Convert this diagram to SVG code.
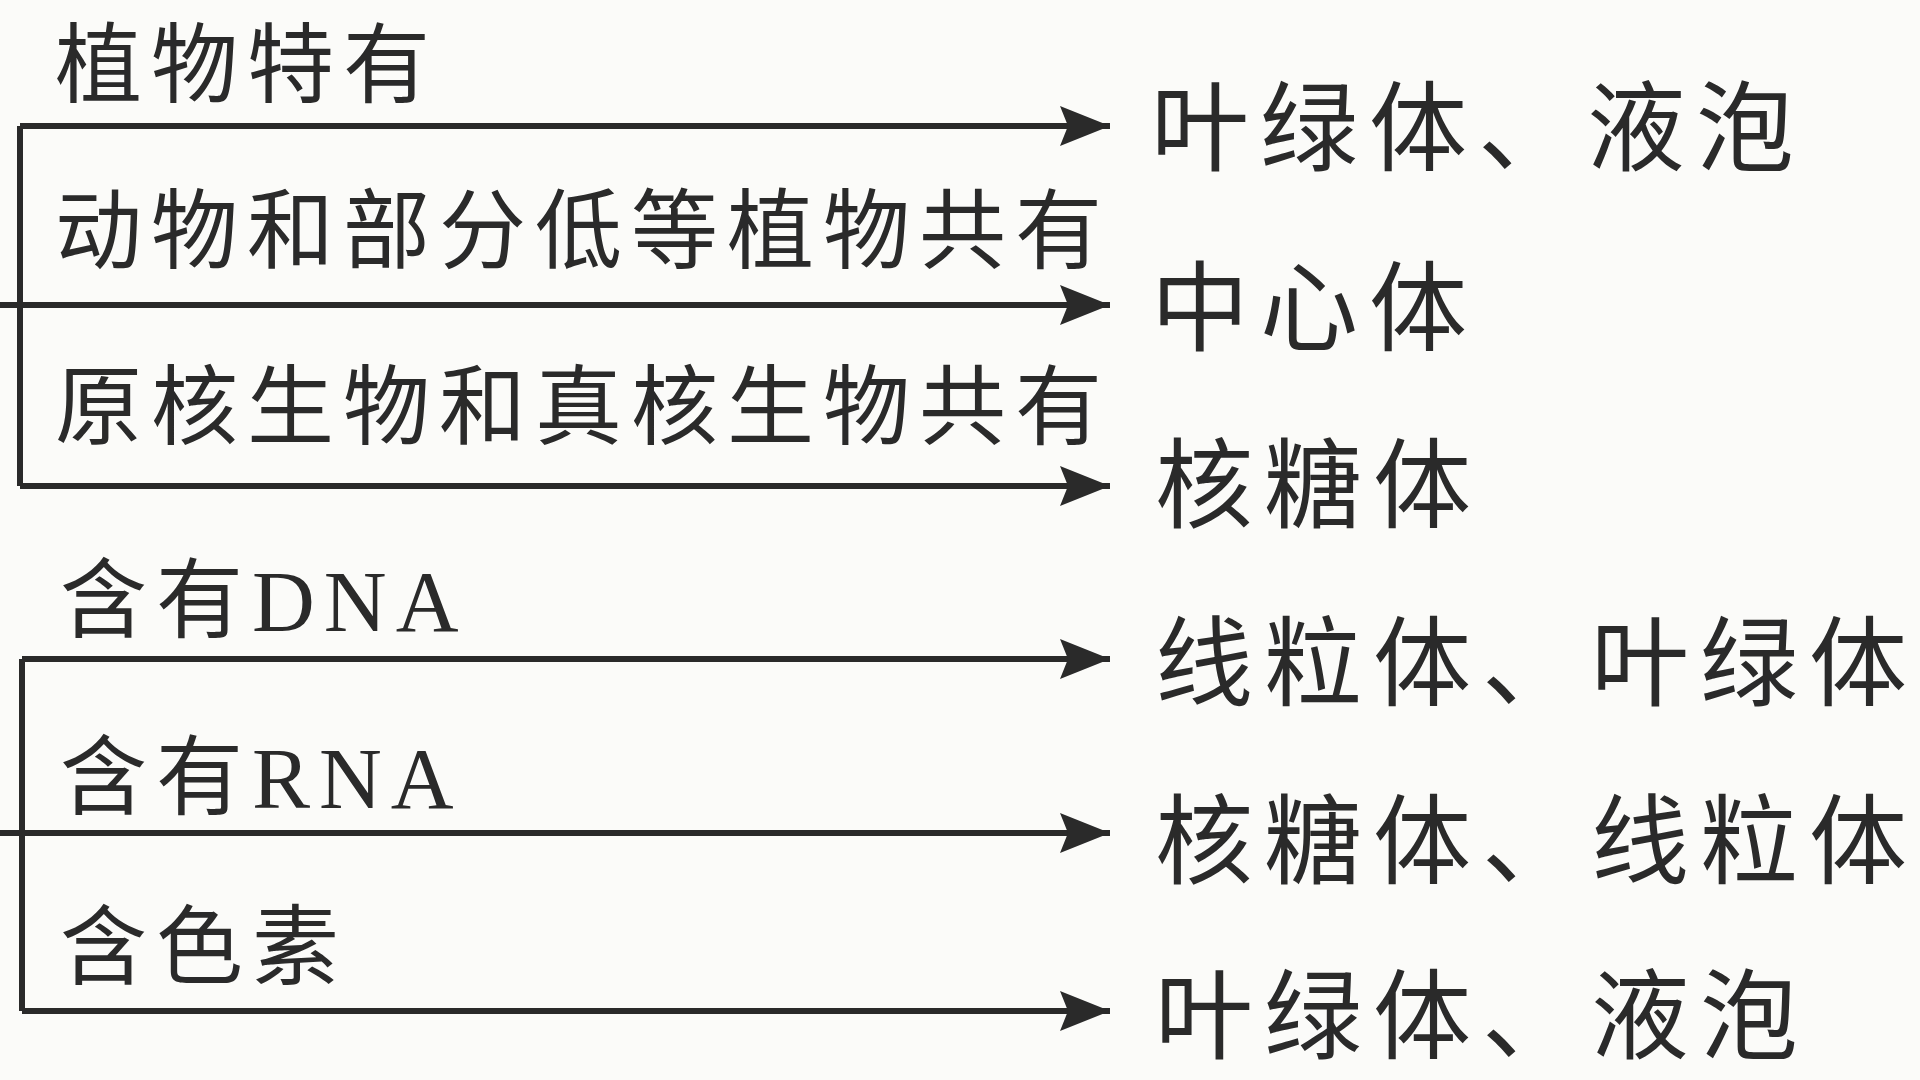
<svg xmlns="http://www.w3.org/2000/svg" width="1920" height="1080" viewBox="0 0 1920 1080">
<style>
.ln{stroke:#2a2a2a;stroke-width:6;fill:none}
.lab{font-family:"Liberation Serif","Noto Sans CJK SC",serif;font-size:87px;letter-spacing:9px;fill:#2a2a2a}
.res{font-family:"Liberation Serif","Noto Sans CJK SC",serif;font-size:98px;letter-spacing:11px;fill:#2a2a2a}
</style>
<defs>
<marker id="a" viewBox="0 0 50 40" refX="50" refY="20" markerWidth="50" markerHeight="40" orient="auto" markerUnits="userSpaceOnUse"><path d="M0,0 L50,20 L0,40 L8,20 Z" fill="#2a2a2a"/></marker></defs>
<rect width="1920" height="1080" fill="#fbfbf9"/>
<g id="connectors">
<path class="ln" d="M20,126 V486 M0,305 H20 M22,659 V1011 M0,833 H22"/>
<path class="ln" marker-end="url(#a)" d="M20,126 H1110"/>
<path class="ln" marker-end="url(#a)" d="M20,305 H1110"/>
<path class="ln" marker-end="url(#a)" d="M20,486 H1110"/>
<path class="ln" marker-end="url(#a)" d="M22,659 H1110"/>
<path class="ln" marker-end="url(#a)" d="M22,833 H1110"/>
<path class="ln" marker-end="url(#a)" d="M22,1011 H1110"/>
</g>
<g id="l1"><text class="lab" x="55" y="96">植物特有</text></g>
<g id="l2"><text class="lab" x="55" y="262">动物和部分低等植物共有</text></g>
<g id="l3"><text class="lab" x="55" y="438">原核生物和真核生物共有</text></g>
<g id="l4"><text class="lab" x="60" y="631">含有DNA</text></g>
<g id="l5"><text class="lab" x="60" y="808">含有RNA</text></g>
<g id="l6"><text class="lab" x="60" y="978">含色素</text></g>
<g id="r1"><text class="res" x="1151" y="163">叶绿体、液泡</text></g>
<g id="r2"><text class="res" x="1151" y="343">中心体</text></g>
<g id="r3"><text class="res" x="1155" y="520">核糖体</text></g>
<g id="r4"><text class="res" x="1155" y="698">线粒体、叶绿体</text></g>
<g id="r5"><text class="res" x="1155" y="876">核糖体、线粒体</text></g>
<g id="r6"><text class="res" x="1155" y="1051">叶绿体、液泡</text></g>
</svg>
